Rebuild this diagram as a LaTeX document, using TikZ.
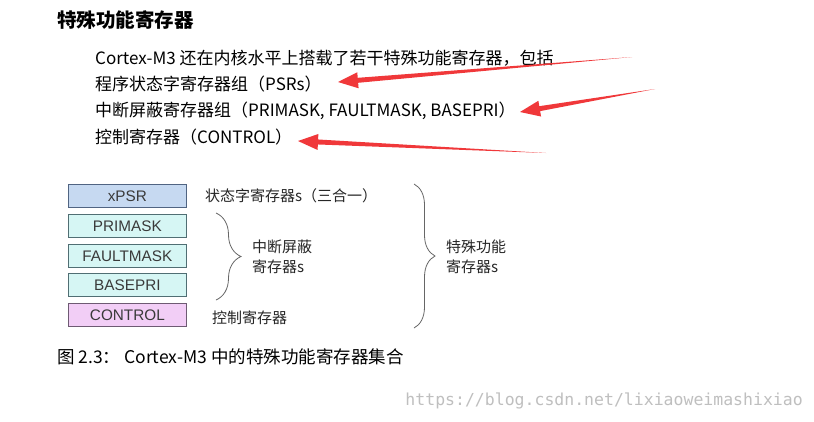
\documentclass[tikz,border=0pt]{standalone}
\usepackage{fontspec}
\setmainfont{Noto Sans CJK SC}
\newfontfamily\lsans{Liberation Sans}
\newfontfamily\wm{DejaVu Sans Mono}
\usetikzlibrary{calc,decorations.pathreplacing}
\definecolor{regtxt}{HTML}{3A3A3A}
\definecolor{arrred}{HTML}{F0383A}
\definecolor{bxb}{RGB}{80,100,130}\definecolor{bxf}{RGB}{198,217,241}
\definecolor{tlb}{RGB}{80,110,115}\definecolor{tlf}{RGB}{214,246,244}
\definecolor{pkb}{RGB}{110,90,115}\definecolor{pkf}{RGB}{242,206,246}
\tikzset{
 reg/.style={draw=#1, line width=0.8pt, minimum width=118pt, minimum height=23pt, inner sep=0pt, font=\lsans\fontsize{15.3}{16}\selectfont, text=regtxt, anchor=north west},
 body/.style={anchor=west, inner sep=0pt, font=\fontsize{17}{20}\selectfont},
 lbl/.style={anchor=west, inner sep=0pt, font=\fontsize{15}{20}\selectfont, align=left, text=black!85},
 brc/.style={decorate, decoration={brace, amplitude=#1}, draw=black!60, line width=0.8pt}
}
\newcommand{\redarrow}[2]{%
 \path ($(#2)!20pt!(#1)$) coordinate (hb);
 \fill[arrred] (#1) -- ($(hb)!2.5pt!90:(#2)$) -- ($(hb)!8pt!90:(#2)$) -- (#2) -- ($(hb)!8pt!-90:(#2)$) -- ($(hb)!2.5pt!-90:(#2)$) -- cycle;}
\begin{document}
\begin{tikzpicture}[x=1pt,y=-1pt]
\useasboundingbox[fill=white] (0,0) rectangle (814,421);
\node[anchor=west, inner sep=0pt, font=\bfseries\fontsize{19.5}{22}\selectfont] (title) at (57,20) {特殊功能寄存器};
\node[body] (t1) at (95,58) {Cortex-M3 还在内核水平上搭载了若干特殊功能寄存器，包括};
\node[body] (t2) at (95,84) {程序状态字寄存器组（PSRs）};
\node[body] (t3) at (95,111) {中断屏蔽寄存器组（PRIMASK, FAULTMASK, BASEPRI）};
\node[body] (t4) at (95,137) {控制寄存器（CONTROL）};
\coordinate (a1s) at (632,57); \coordinate (a1e) at (338,82);
\coordinate (a2s) at (655,89); \coordinate (a2e) at (520,112);
\coordinate (a3s) at (546,153); \coordinate (a3e) at (298,141);
\redarrow{a1s}{a1e}
\redarrow{a2s}{a2e}
\redarrow{a3s}{a3e}
\node[reg=bxb, fill=bxf] (xpsr) at (68,184) {xPSR};
\node[reg=tlb, fill=tlf] (pri) at (68,214) {PRIMASK};
\node[reg=tlb, fill=tlf] (fault) at (68,244) {FAULTMASK};
\node[reg=tlb, fill=tlf] (base) at (68,273) {BASEPRI};
\node[reg=pkb, fill=pkf] (ctrl) at (68,303) {CONTROL};
\node[lbl] (l1) at (205,196) {状态字寄存器s（三合一）};
\coordinate (b1t) at (216,213); \coordinate (b1b) at (216,300);
\draw[brc=25pt] (b1t) -- (b1b);
\node[lbl] (l2) at (252,257) {中断屏蔽\\寄存器s};
\node[lbl] (l3) at (212,318) {控制寄存器};
\coordinate (b2t) at (414,184); \coordinate (b2b) at (414,328);
\draw[brc=21pt] (b2t) -- (b2b);
\node[lbl] (l4) at (446,257) {特殊功能\\寄存器s};
\node[anchor=west, inner sep=0pt, font=\fontsize{17.5}{18}\selectfont] (cap) at (57,357) {图 2.3： Cortex-M3 中的特殊功能寄存器集合};
\node[anchor=east, inner sep=0pt, text=black!25, font=\wm\fontsize{16.5}{18}\selectfont] (wmk) at (803,401) {https://blog.csdn.net/lixiaoweimashixiao};
\end{tikzpicture}
\end{document}
